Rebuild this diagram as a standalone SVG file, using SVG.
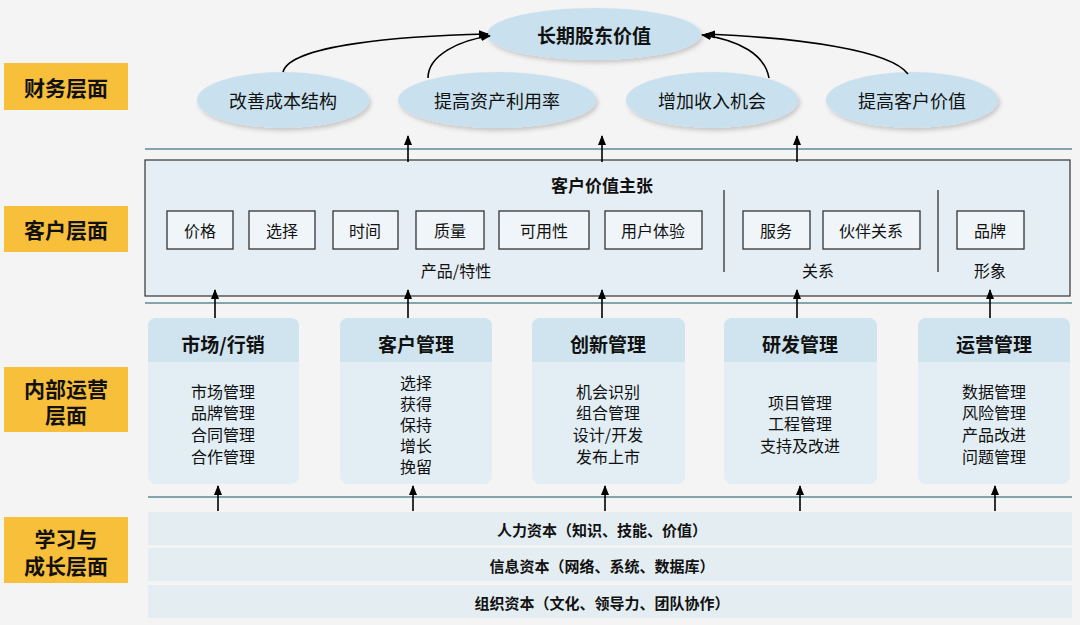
<svg xmlns="http://www.w3.org/2000/svg" width="1080" height="625" viewBox="0 0 1080 625">
<defs>
<marker id="ah" markerWidth="10" markerHeight="10" refX="9" refY="5" orient="auto" markerUnits="userSpaceOnUse"><path d="M0,1 L10,5 L0,9 z" fill="#000"/></marker>
<filter id="sh" x="-10%" y="-20%" width="130%" height="150%"><feDropShadow dx="2" dy="3" stdDeviation="2" flood-color="#000" flood-opacity="0.18"/></filter>
</defs>
<style>
text{font-family:"Noto Sans CJK SC","Liberation Sans",sans-serif;fill:#111;text-anchor:middle;dominant-baseline:central}
.lab rect{fill:#f8bf3a}
.lab text{font-size:21px;font-weight:bold}
.ell{fill:#c9e1ee;filter:url(#sh)}
.et{font-size:18px}
.sb{fill:#fff;fill-opacity:0.4;stroke:#333;stroke-width:1.3}
.st{font-size:16px}
.hd{fill:#cfe4ef}
.bd{fill:#e2eef4}
.ht{font-size:19px;font-weight:bold}
.bt{font-size:16px}
.row{fill:#e4edf2}
.rt{font-size:15px;font-weight:bold}
.sep{stroke:#5b8a96;stroke-width:1.5}
.con{stroke:#000;stroke-width:1.6;fill:none;marker-end:url(#ah)}
</style>
<rect width="1080" height="625" fill="#f4f4f4"/>
<g class="lab" id="lab1"><rect x="4" y="63" width="124" height="47"/><text x="66" y="87">财务层面</text></g>
<g class="lab" id="lab2"><rect x="4" y="206" width="124" height="46"/><text x="66" y="229">客户层面</text></g>
<g class="lab" id="lab3"><rect x="4" y="367" width="124" height="65"/><text x="66" y="388">内部运营</text><text x="66" y="414">层面</text></g>
<g class="lab" id="lab4"><rect x="4" y="517" width="124" height="66"/><text x="66" y="538">学习与</text><text x="66" y="565">成长层面</text></g>
<line class="sep" x1="145" y1="149" x2="1072" y2="149"/>
<line class="sep" x1="145" y1="303" x2="1072" y2="303"/>
<line class="sep" x1="148" y1="497" x2="1072" y2="497"/>
<g id="top"><ellipse class="ell" cx="594" cy="34" rx="107" ry="26"/><text x="594" y="34" class="ht">长期股东价值</text></g>
<g id="f1"><ellipse class="ell" cx="283" cy="100" rx="86" ry="28"/><text x="283" y="100" class="et">改善成本结构</text></g>
<g id="f2"><ellipse class="ell" cx="497" cy="100" rx="99" ry="28"/><text x="497" y="100" class="et">提高资产利用率</text></g>
<g id="f3"><ellipse class="ell" cx="712" cy="100" rx="86" ry="28"/><text x="712" y="100" class="et">增加收入机会</text></g>
<g id="f4"><ellipse class="ell" cx="912" cy="100" rx="86" ry="28"/><text x="912" y="100" class="et">提高客户价值</text></g>
<g id="cust">
<rect x="145" y="160" width="925" height="136" fill="#e6eef5" stroke="#333" stroke-width="1.2"/>
<text x="602" y="184" class="rt" style="font-size:17px">客户价值主张</text>
<rect class="sb" x="167" y="211" width="66" height="38"/><text class="st" x="200" y="230">价格</text>
<rect class="sb" x="249" y="211" width="66" height="38"/><text class="st" x="282" y="230">选择</text>
<rect class="sb" x="333" y="211" width="65" height="38"/><text class="st" x="365" y="230">时间</text>
<rect class="sb" x="416" y="211" width="68" height="38"/><text class="st" x="450" y="230">质量</text>
<rect class="sb" x="499" y="211" width="90" height="38"/><text class="st" x="544" y="230">可用性</text>
<rect class="sb" x="605" y="211" width="97" height="38"/><text class="st" x="653" y="230">用户体验</text>
<line x1="724" y1="190" x2="724" y2="272" stroke="#333" stroke-width="1.3"/>
<rect class="sb" x="743" y="211" width="67" height="38"/><text class="st" x="776" y="230">服务</text>
<rect class="sb" x="823" y="211" width="97" height="38"/><text class="st" x="871" y="230">伙伴关系</text>
<line x1="938" y1="190" x2="938" y2="272" stroke="#333" stroke-width="1.3"/>
<rect class="sb" x="957" y="211" width="67" height="38"/><text class="st" x="990" y="230">品牌</text>
<text class="st" x="456" y="270">产品/特性</text>
<text class="st" x="818" y="270">关系</text>
<text class="st" x="990" y="270">形象</text>
</g>
<g id="c1"><rect class="bd" x="148" y="318" width="151" height="166" rx="8"/><path class="hd" d="M148,362 V326 a8,8 0 0 1 8,-8 H291 a8,8 0 0 1 8,8 V362 z"/><text class="ht" x="223" y="343">市场/行销</text><text class="bt" x="223" y="391">市场管理</text><text class="bt" x="223" y="412">品牌管理</text><text class="bt" x="223" y="434">合同管理</text><text class="bt" x="223" y="456">合作管理</text></g>
<g id="c2"><rect class="bd" x="340" y="318" width="152" height="166" rx="8"/><path class="hd" d="M340,362 V326 a8,8 0 0 1 8,-8 H484 a8,8 0 0 1 8,8 V362 z"/><text class="ht" x="416" y="343">客户管理</text><text class="bt" x="416" y="382">选择</text><text class="bt" x="416" y="403">获得</text><text class="bt" x="416" y="424">保持</text><text class="bt" x="416" y="445">增长</text><text class="bt" x="416" y="466">挽留</text></g>
<g id="c3"><rect class="bd" x="532" y="318" width="153" height="166" rx="8"/><path class="hd" d="M532,362 V326 a8,8 0 0 1 8,-8 H677 a8,8 0 0 1 8,8 V362 z"/><text class="ht" x="608" y="343">创新管理</text><text class="bt" x="608" y="391">机会识别</text><text class="bt" x="608" y="412">组合管理</text><text class="bt" x="608" y="434">设计/开发</text><text class="bt" x="608" y="456">发布上市</text></g>
<g id="c4"><rect class="bd" x="724" y="318" width="153" height="166" rx="8"/><path class="hd" d="M724,362 V326 a8,8 0 0 1 8,-8 H869 a8,8 0 0 1 8,8 V362 z"/><text class="ht" x="800" y="343">研发管理</text><text class="bt" x="800" y="402">项目管理</text><text class="bt" x="800" y="423">工程管理</text><text class="bt" x="800" y="445">支持及改进</text></g>
<g id="c5"><rect class="bd" x="918" y="318" width="152" height="166" rx="8"/><path class="hd" d="M918,362 V326 a8,8 0 0 1 8,-8 H1062 a8,8 0 0 1 8,8 V362 z"/><text class="ht" x="994" y="343">运营管理</text><text class="bt" x="994" y="391">数据管理</text><text class="bt" x="994" y="412">风险管理</text><text class="bt" x="994" y="434">产品改进</text><text class="bt" x="994" y="456">问题管理</text></g>
<g id="l1"><rect class="row" x="148" y="512" width="924" height="33"/><text class="rt" x="602" y="529">人力资本（知识、技能、价值）</text></g>
<g id="l2"><rect class="row" x="148" y="548" width="924" height="33"/><text class="rt" x="602" y="565">信息资本（网络、系统、数据库）</text></g>
<g id="l3"><rect class="row" x="148" y="585" width="924" height="33"/><text class="rt" x="602" y="602">组织资本（文化、领导力、团队协作）</text></g>
<g id="connectors">
<path class="con" d="M283,72 C290,45 400,36 488,34"/>
<path class="con" d="M428,78 C428,55 460,40 490,36"/>
<path class="con" d="M769,78 C765,55 740,40 702,35"/>
<path class="con" d="M908,74 C890,50 800,38 706,34"/>
<path class="con" d="M408,162 V136"/>
<path class="con" d="M602,162 V136"/>
<path class="con" d="M797,162 V136"/>
<path class="con" d="M215,318 V290"/>
<path class="con" d="M408,318 V290"/>
<path class="con" d="M602,318 V290"/>
<path class="con" d="M797,318 V290"/>
<path class="con" d="M990,318 V290"/>
<path class="con" d="M218,511 V486"/>
<path class="con" d="M413,511 V486"/>
<path class="con" d="M605,511 V486"/>
<path class="con" d="M800,511 V486"/>
<path class="con" d="M995,511 V486"/>
</g>
</svg>
